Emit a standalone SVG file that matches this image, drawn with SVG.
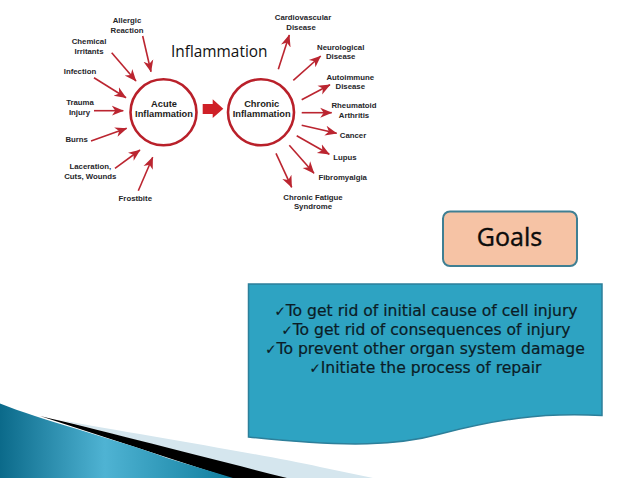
<svg xmlns="http://www.w3.org/2000/svg" width="638" height="478" viewBox="0 0 638 478">
<style>
.l{font:bold 7.8px "Liberation Sans",Arial,sans-serif;fill:#26262a;text-anchor:middle}
.c{font:bold 9.3px "Liberation Sans",Arial,sans-serif;fill:#1d1d20;text-anchor:middle}
.r{fill:#fff;stroke:#b9202a;stroke-width:2.6}
.a{fill:none;stroke:#bb2530;stroke-width:1.6;marker-end:url(#h)}
.b{font:15.600px "DejaVu Sans",sans-serif;fill:#0b1c26;text-anchor:middle;stroke:#0b1c26;stroke-width:.2}
.k{font-size:13.500px}
</style>
<defs>
<marker id="h" markerUnits="userSpaceOnUse" markerWidth="14" markerHeight="12" refX="11.500" refY="6" orient="auto">
<path d="M0 1 L12 6 L0 11 L3.500 6Z" fill="#bb2530"/>
</marker>
<linearGradient id="sw" gradientUnits="userSpaceOnUse" x1="0" y1="440" x2="233" y2="440">
<stop offset="0" stop-color="#0b6a8a"/><stop offset=".45" stop-color="#4fb3d3"/><stop offset="1" stop-color="#0f7d9d"/>
</linearGradient>
</defs>
<rect width="638" height="478" fill="#fff"/>
<g id="swoosh">
<path d="M60 420 C130 433 250 452 320 467 L373 478 H280Z" fill="#d5e6ee"/>
<path d="M40 416 C100 430 200 456 287 478 H230Z" fill="#000"/>
<path d="M0 403.500 C40 420 110 437 167 458 L233 478 H0Z" fill="url(#sw)"/>
</g>
<g id="connectors">
<path class="a" d="M142.700 36L151 71.700"/><path class="a" d="M111.700 52.700L136 81"/>
<path class="a" d="M94 77.700L126 97.700"/><path class="a" d="M94 110.700H123.300"/>
<path class="a" d="M91 141L126.700 128.300"/><path class="a" d="M115 168.300L140 150"/>
<path class="a" d="M138.300 190.700L152.700 157.300"/>
<path class="a" d="M278.300 69.300L289.300 35"/><path class="a" d="M293.300 80.300L320.700 56"/>
<path class="a" d="M301.700 99.700L330 84.700"/><path class="a" d="M301.700 112.700H331.700"/>
<path class="a" d="M301.700 125.300L336.700 133.300"/><path class="a" d="M296.700 135.700L329.300 154.300"/>
<path class="a" d="M289.300 145.300L314 173.300"/><path class="a" d="M276 153.300L291.700 187.300"/>
<path d="M202.700 104H212.700V99.300L223.300 108.800L212.700 118V114H202.700Z" fill="#cf2027"/>
</g>
<g id="title"><text x="171" y="57.300" font-family="Open Sans,sans-serif" font-size="15.400" fill="#111">Inflammation</text></g>
<g id="acute"><circle class="r" cx="163.500" cy="112.300" r="33"/><text class="c" x="164" y="107.300">Acute</text><text class="c" x="164" y="117">Inflammation</text></g>
<g id="chronic"><circle class="r" cx="261" cy="112.300" r="33"/><text class="c" x="261.700" y="107.300">Chronic</text><text class="c" x="261.700" y="117">Inflammation</text></g>
<g id="allergic"><text class="l" x="127" y="23">Allergic</text><text class="l" x="127" y="32.700">Reaction</text></g>
<g id="chemical"><text class="l" x="89" y="44.300">Chemical</text><text class="l" x="89" y="54.300">Irritants</text></g>
<g id="infection"><text class="l" x="80" y="73.700">Infection</text></g>
<g id="trauma"><text class="l" x="80" y="104.700">Trauma</text><text class="l" x="79.500" y="115">Injury</text></g>
<g id="burns"><text class="l" x="76.700" y="142">Burns</text></g>
<g id="laceration"><text class="l" x="90.300" y="169">Laceration,</text><text class="l" x="90.300" y="179">Cuts, Wounds</text></g>
<g id="frostbite"><text class="l" x="135.300" y="201">Frostbite</text></g>
<g id="cardio"><text class="l" x="303" y="20">Cardiovascular</text><text class="l" x="301" y="30">Disease</text></g>
<g id="neuro"><text class="l" x="340.700" y="50">Neurological</text><text class="l" x="340.700" y="59.300">Disease</text></g>
<g id="auto"><text class="l" x="350.300" y="79.700">Autoimmune</text><text class="l" x="350.300" y="89.300">Disease</text></g>
<g id="rheum"><text class="l" x="354" y="108">Rheumatoid</text><text class="l" x="354" y="117.700">Arthritis</text></g>
<g id="cancer"><text class="l" x="353" y="137.700">Cancer</text></g>
<g id="lupus"><text class="l" x="345" y="159.700">Lupus</text></g>
<g id="fibro"><text class="l" x="342.700" y="180.300">Fibromyalgia</text></g>
<g id="cfs"><text class="l" x="313" y="199.700">Chronic Fatigue</text><text class="l" x="313" y="209.300">Syndrome</text></g>
<g id="goals"><rect x="443" y="211.500" width="134" height="54.500" rx="7" fill="#f6c3a5" stroke="#3f7f93" stroke-width="2"/>
<text x="509.500" y="245.500" font-family="Open Sans,sans-serif" font-size="25" fill="#0c0c0c" stroke="#0c0c0c" stroke-width=".4" text-anchor="middle">Goals</text></g>
<g id="body"><path d="M248.500 284H602V415.500C540 412 495 420 440 434C400 445 350 448 248.500 437Z" fill="#2ea3c2" stroke="#2d7f9a" stroke-width="1.500"/>
<text class="b" x="426" y="315.700"><tspan class="k">✓</tspan>To get rid of initial cause of cell injury</text>
<text class="b" x="426" y="335"><tspan class="k">✓</tspan>To get rid of consequences of injury</text>
<text class="b" x="425" y="354.300"><tspan class="k">✓</tspan>To prevent other organ system damage</text>
<text class="b" x="425.500" y="373.300"><tspan class="k">✓</tspan>Initiate the process of repair</text></g>
</svg>
